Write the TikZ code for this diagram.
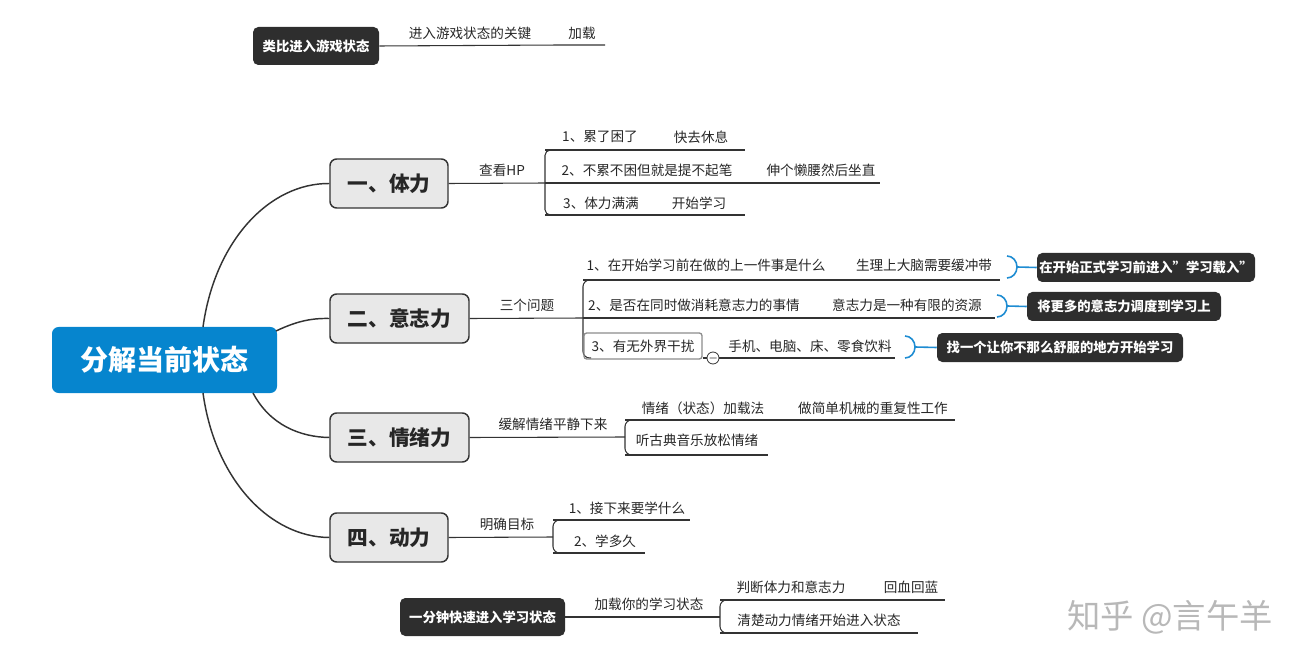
\documentclass[tikz,border=0pt]{standalone}
\usepackage{fontspec}
\setmainfont{Noto Sans CJK SC}
\begin{document}
\begin{tikzpicture}[x=0.75pt,y=-0.75pt,
 ln/.style={draw=black!80,line width=0.8pt},
 lbl/.style={font=\fontsize{10.2}{12}\selectfont,text=black!85,inner sep=0},
 rootbox/.style={fill={rgb,255:red,6;green,133;blue,206},rounded corners=5pt,text=white,font=\fontsize{21}{24}\selectfont\bfseries,inner sep=0},
 topic/.style={fill=black!9,draw=black!80,line width=1.1pt,rounded corners=5pt,font=\fontsize{15.5}{18}\selectfont\bfseries,text=black!85,inner sep=0},
 dark/.style={fill=black!82,rounded corners=4pt,text=white,font=\fontsize{10}{11}\selectfont\bfseries,inner sep=0},
 brc/.style={draw={rgb,255:red,30;green,140;blue,210},line width=1.2pt}]
\useasboundingbox (0,0) rectangle (1310,670);
% root and topics
\node[rootbox,minimum width=225*0.75pt,minimum height=66*0.75pt] (root) at (164.5,360) {分解当前状态};
\node[topic,minimum width=118*0.75pt,minimum height=49*0.75pt] (t1) at (389,183.5) {一、体力};
\node[topic,minimum width=139*0.75pt,minimum height=49*0.75pt] (t2) at (399.5,318.5) {二、意志力};
\node[topic,minimum width=139*0.75pt,minimum height=49*0.75pt] (t3) at (399.5,437.5) {三、情绪力};
\node[topic,minimum width=118*0.75pt,minimum height=49*0.75pt] (t4) at (389,537.5) {四、动力};
\coordinate (r1) at (203,327); \coordinate (r2) at (276,331);
\coordinate (r3) at (253,393); \coordinate (r4) at (203,393);
\draw[ln,line width=1.1pt] (r1) .. controls (215,240) and (270,183) .. (t1.west);
\draw[ln,line width=1.1pt] (r2) .. controls (295,322) and (310,318) .. (t2.west);
\draw[ln,line width=1.1pt] (r3) .. controls (270,425) and (300,437) .. (t3.west);
\draw[ln,line width=1.1pt] (r4) .. controls (215,480) and (270,537) .. (t4.west);

% top
\node[dark,minimum width=126*0.75pt,minimum height=38*0.75pt] (g) at (316,46) {类比进入游戏状态};
\node[lbl] (g1) at (470,33) {进入游戏状态的关键};
\node[lbl] (g2) at (582,33) {加载};
\draw[ln] (g.east) -- (560,45) coordinate (g1e) -- (605,45);

% branch 1
\node[lbl] (a0) at (502,170) {查看HP};
\draw[ln] (t1.east) -- (545,183);
\draw[ln,rounded corners=4pt] (553,150) -- (545,150) -- (545,215) -- (553,215);
\node[lbl] (a1) at (600,137) {1、累了困了};
\node[lbl] (a1b) at (701,137) {快去休息};
\draw[ln] (545,150) -- (745,150);
\node[lbl] (a2) at (647,170) {2、不累不困但就是提不起笔};
\node[lbl] (a2b) at (821,170) {伸个懒腰然后坐直};
\draw[ln] (545,183) -- (880,183);
\node[lbl] (a3) at (601,203) {3、体力满满};
\node[lbl] (a3b) at (699,203) {开始学习};
\draw[ln] (545,215) -- (745,215);

% branch 2
\node[lbl] (b0) at (527,305) {三个问题};
\draw[ln] (t2.east) -- (583,318);
\draw[ln,rounded corners=5pt] (591,280) -- (583,280) -- (583,358) -- (591,358);
\node[lbl] (b1) at (706,265) {1、在开始学习前在做的上一件事是什么};
\node[lbl] (b1b) at (924,265) {生理上大脑需要缓冲带};
\draw[ln] (583,280) -- (1000,280);
\node[lbl] (b2) at (694,305) {2、是否在同时做消耗意志力的事情};
\node[lbl] (b2b) at (907,305) {意志力是一种有限的资源};
\draw[ln] (583,318) -- (995,318);
\node[lbl,draw=black!45,line width=1pt,rounded corners=2pt,minimum width=118*0.75pt,minimum height=26*0.75pt] (b3) at (643,346) {3、有无外界干扰};
\node[lbl] (b3b) at (810,346) {手机、电脑、床、零食饮料};
\draw[ln] (703,358) -- (707,358);
\draw[ln] (719,358) -- (895,358);
\draw[ln,line width=0.6pt] (713,358) circle (6) (709.5,358) -- (716.5,358);
\node[dark,minimum width=218*0.75pt,minimum height=29*0.75pt] (c1) at (1146,267.5) {在开始正式学习前进入\symbol{34}学习载入\symbol{34}};
\node[dark,minimum width=194*0.75pt,minimum height=29*0.75pt] (c2) at (1124,306.5) {将更多的意志力调度到学习上};
\node[dark,minimum width=246*0.75pt,minimum height=29*0.75pt] (c3) at (1060,347.5) {找一个让你不那么舒服的地方开始学习};
\draw[brc] (1007,256) to[out=0,in=90] (1017,267) to[out=-90,in=0] (1007,278);
\draw[brc] (1017,267) -- (c1.west);
\draw[brc] (997,295) to[out=0,in=90] (1007,306) to[out=-90,in=0] (997,317);
\draw[brc] (1007,306) -- (c2.west);
\draw[brc] (905,336) to[out=0,in=90] (915,347) to[out=-90,in=0] (905,358);
\draw[brc] (915,347) -- (c3.west);

% branch 3
\node[lbl] (d0) at (553,424) {缓解情绪平静下来};
\draw[ln] (t3.east) -- (625,437);
\draw[ln,rounded corners=5pt] (633,420) -- (625,420) -- (625,455) -- (633,455);
\node[lbl] (d1) at (703,408) {情绪（状态）加载法};
\node[lbl] (d1b) at (873,408) {做简单机械的重复性工作};
\draw[ln] (625,420) -- (955,420);
\node[lbl] (d2) at (697,440) {听古典音乐放松情绪};
\draw[ln] (625,455) -- (768,455);

% branch 4
\node[lbl] (e0) at (507,524) {明确目标};
\draw[ln] (t4.east) -- (553,537);
\draw[ln,rounded corners=5pt] (561,520) -- (553,520) -- (553,553) -- (561,553);
\node[lbl] (e1) at (627,508) {1、接下来要学什么};
\draw[ln] (553,520) -- (690,520);
\node[lbl] (e2) at (605,541) {2、学多久};
\draw[ln] (553,553) -- (645,553);

% bottom
\node[dark,minimum width=165*0.75pt,minimum height=38*0.75pt] (f) at (482.5,617) {一分钟快速进入学习状态};
\node[lbl] (f0) at (649,604) {加载你的学习状态};
\draw[ln] (f.east) -- (720,617);
\draw[ln,rounded corners=5pt] (728,600) -- (720,600) -- (720,633) -- (728,633);
\node[lbl] (f1) at (791,587) {判断体力和意志力};
\node[lbl] (f1b) at (911,587) {回血回蓝};
\draw[ln] (720,600) -- (945,600);
\node[lbl] (f2) at (819,620) {清楚动力情绪开始进入状态};
\draw[ln] (720,633) -- (918,633);

\node[font=\fontsize{25}{28}\selectfont,text=black!28,inner sep=0] (wm) at (1170,617) {知乎 @言午羊};
\end{tikzpicture}
\end{document}
